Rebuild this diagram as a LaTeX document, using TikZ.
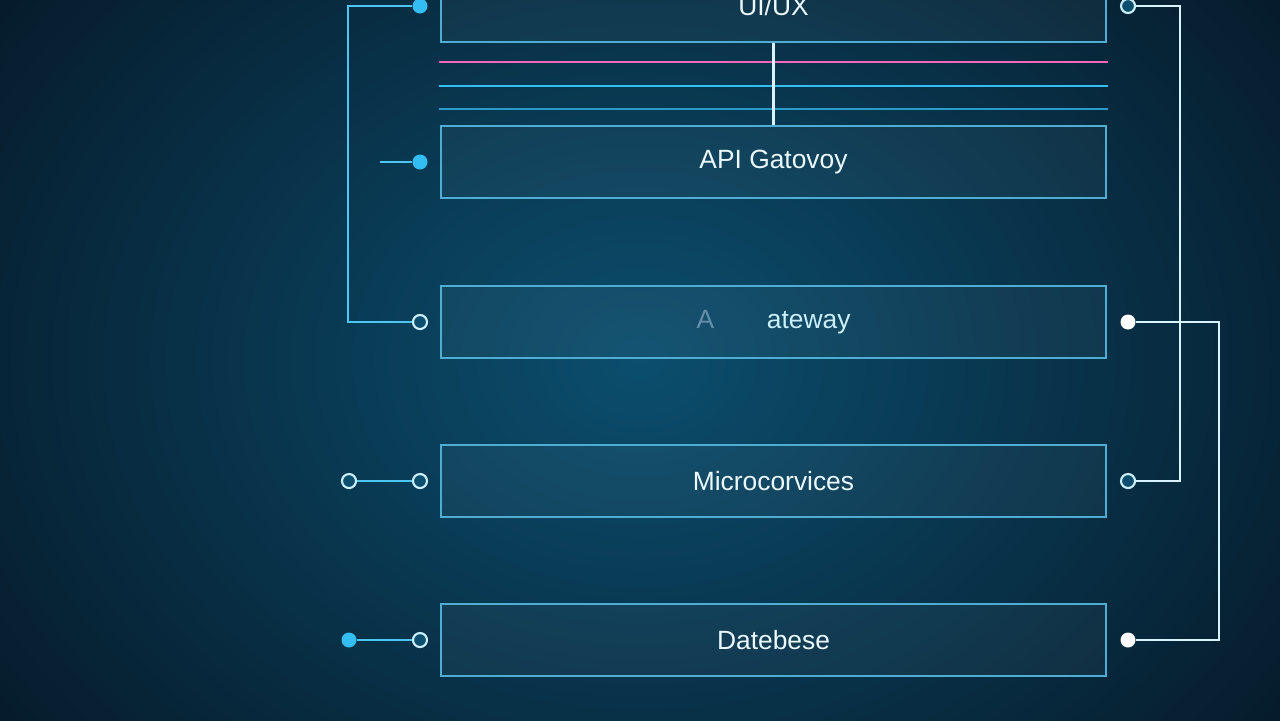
\documentclass[tikz,border=0pt]{standalone}
\usepackage{fontspec}
\setmainfont{Liberation Sans}
\begin{document}
\begin{tikzpicture}[x=0.01cm,y=-0.01cm,
 box/.style={draw=cyan!60!teal!80!white,line width=0.7pt,fill=white,fill opacity=0.04,text opacity=1,minimum width=6.65cm,minimum height=0.72cm,text=white!92!cyan,font=\fontsize{7.5}{9}\selectfont},
 wire/.style={draw=cyan!70!white,line width=0.6pt},
 wwire/.style={draw=white!85!cyan,line width=0.6pt},
 ocirc/.style={circle,draw=white!80!cyan,line width=0.6pt,inner sep=0pt,minimum size=0.14cm,fill=bgin},
 fcirc/.style={circle,fill=cyan!80!white,inner sep=0pt,minimum size=0.15cm},
 wcirc/.style={circle,fill=white,inner sep=0pt,minimum size=0.15cm}]
\definecolor{bgin}{HTML}{0B4E6E}\definecolor{bgout}{HTML}{061827}
\useasboundingbox (0,0) rectangle (1280,720);
\clip (0,0) rectangle (1280,720);
\shade[inner color=bgin,outer color=bgout] (-200,-300) rectangle (1480,1020);
\node[box] (ui) at (773.5,6) {UI/UX};
\node[box] (g1) at (773.5,162) {API Gatovoy};
\node[box,text=white!50!cyan!40!bgin] (g2) at (773.5,322) {A\phantom{PI G}\textcolor{white!80!cyan}{ateway}};
\node[box] (ms) at (773.5,481) {Microcorvices};
\node[box] (db) at (773.5,640) {Datebese};
\coordinate (la) at (439,62);\coordinate (lb) at (1108,62);
\draw[draw=magenta!60!white,line width=0.6pt] (la) -- (lb);
\coordinate (ma) at (439,86);\coordinate (mb) at (1108,86);
\draw[draw=cyan!80!white,line width=0.6pt] (ma) -- (mb);
\coordinate (na) at (439,109);\coordinate (nb) at (1108,109);
\draw[draw=cyan!60!teal,line width=0.6pt] (na) -- (nb);
\draw[wwire] (ui.south) -- (g1.north);
% left
\node[fcirc] (l1) at (420,6) {};
\node[fcirc] (l2) at (420,162) {};
\node[ocirc] (l3) at (420,322) {};
\node[ocirc] (l4) at (420,481) {};
\node[ocirc] (l4b) at (349,481) {};
\node[ocirc] (l5) at (420,640) {};
\node[fcirc] (l5b) at (349,640) {};
\coordinate (l2s) at (380,162);
\draw[wire] (l1) -- (348,6) -- (348,322) -- (l3);
\draw[wire] (l2s) -- (l2);
\draw[wire] (l4b) -- (l4);
\draw[wire] (l5b) -- (l5);
% right
\node[ocirc] (r1) at (1128,6) {};
\node[wcirc] (r2) at (1128,322) {};
\node[ocirc] (r3) at (1128,481) {};
\node[wcirc] (r4) at (1128,640) {};
\draw[wwire] (r1) -- (1180,6) -- (1180,481) -- (r3);
\draw[wwire] (r2) -- (1219,322) -- (1219,640) -- (r4);
\end{tikzpicture}
\end{document}
